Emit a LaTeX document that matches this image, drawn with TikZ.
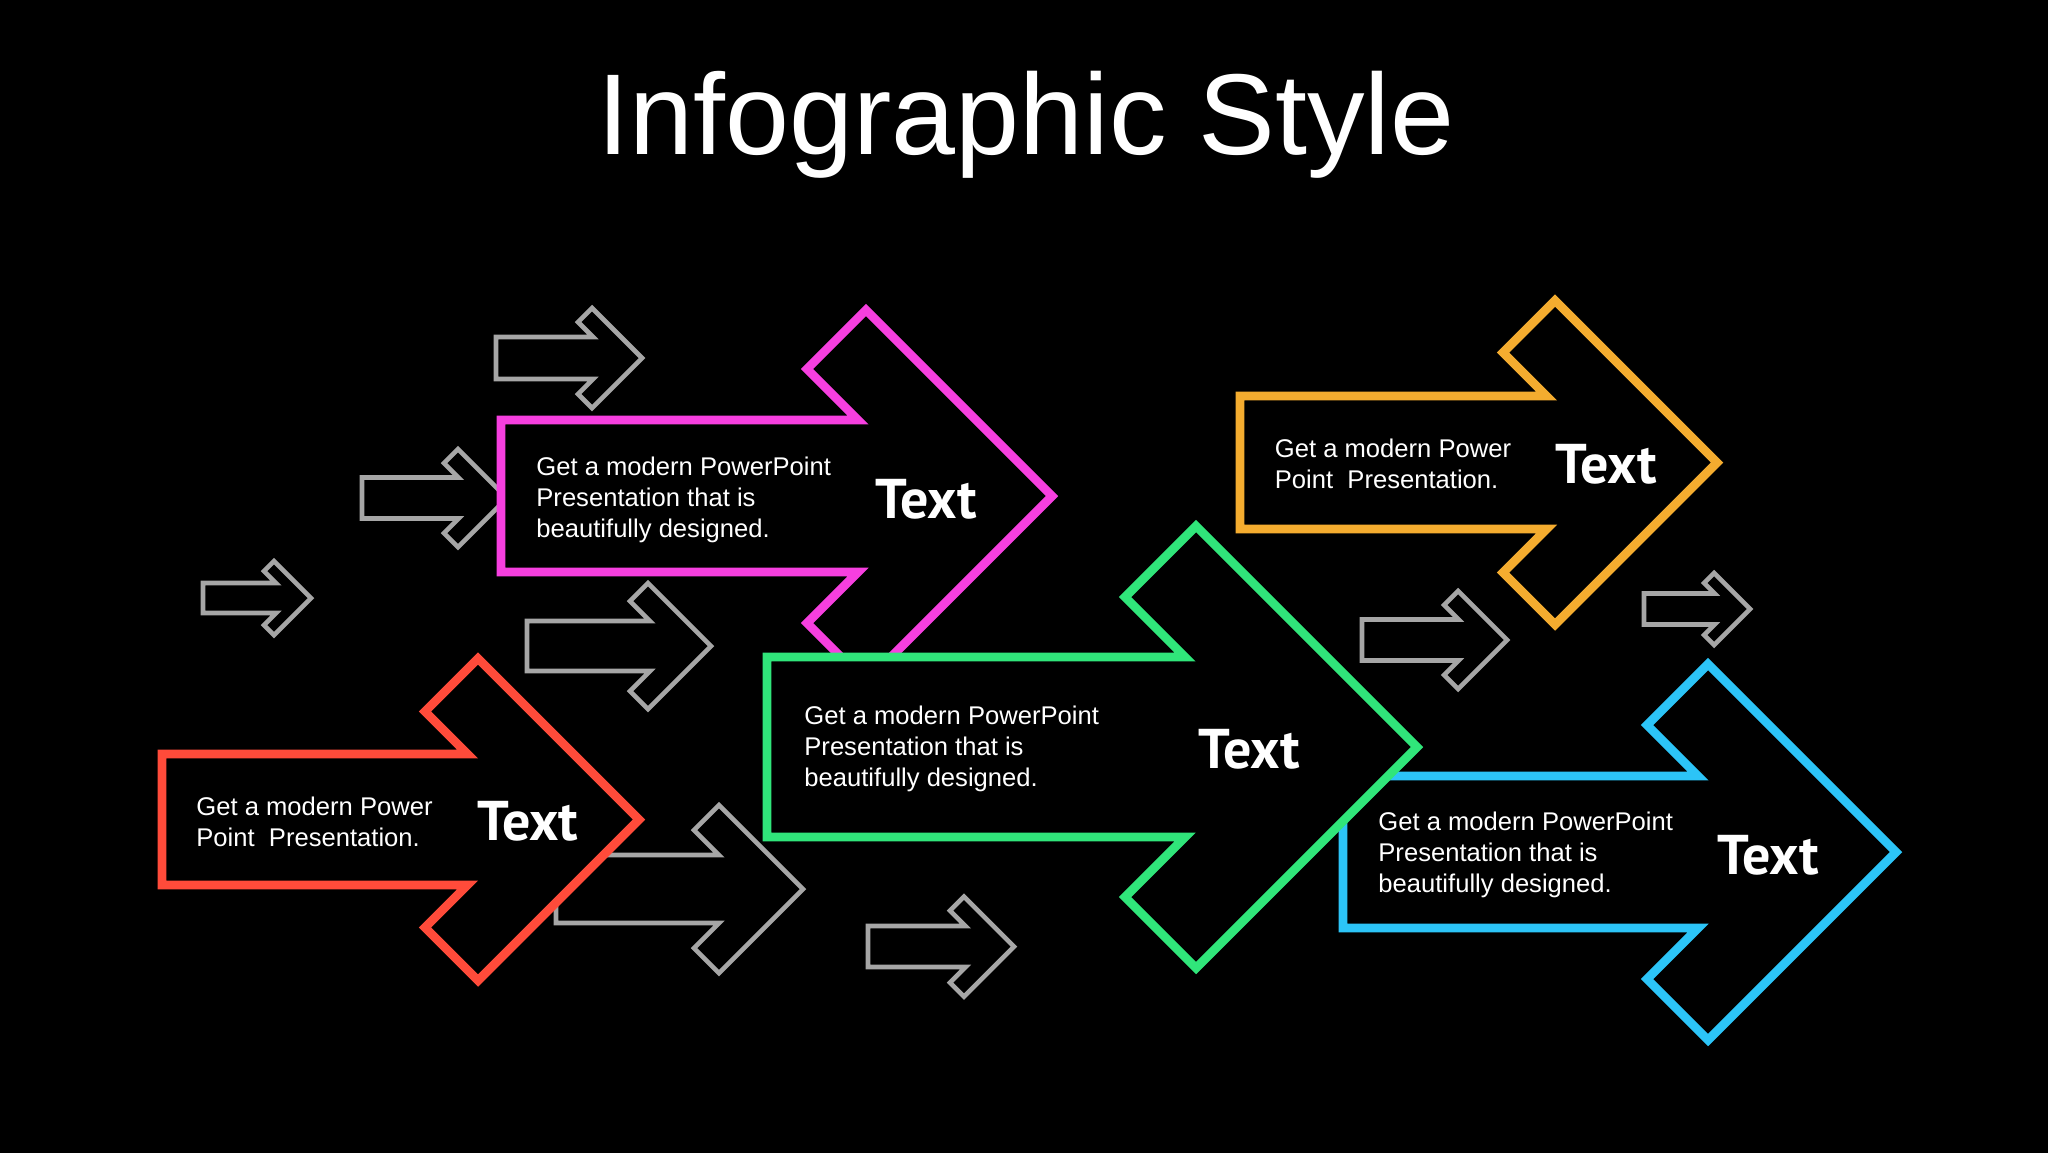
\documentclass[tikz,border=0pt]{standalone}
\usepackage{fontspec}
\usepackage{tikz}
\usetikzlibrary{positioning}
\setmainfont{Liberation Sans}
\newfontfamily\labelfont{PT Sans}
\definecolor{pinkline}{HTML}{F63FDF}
\definecolor{greenline}{HTML}{30E57A}
\definecolor{redline}{HTML}{FF4B3A}
\definecolor{orangeline}{HTML}{F4AC2F}
\definecolor{blueline}{HTML}{2CC4F7}
\definecolor{grayline}{HTML}{A6A6A6}
% style, left, apex x, centre y, head half, bar half, barb depth
\newcommand{\blockarrow}[7]{
    \draw[#1, fill=black] (#2,{#4-#6}) -- ({#3-#7+#5-#7-#6},{#4-#6}) -- ({#3-#7},{#4-#5+#7})
        -- (#3,{#4-#5}) -- ({#3+#5},#4) -- (#3,{#4+#5}) -- ({#3-#7},{#4+#5-#7})
        -- ({#3-#7+#5-#7-#6},{#4+#6}) -- (#2,{#4+#6}) -- cycle;
}
\begin{document}
\begin{tikzpicture}[x=0.5pt, y=-0.5pt,
    every node/.style = {text=white, inner sep=0pt},
    big/.style = {line width=4.4pt},
    small/.style = {draw=grayline, line width=2.3pt},
    body/.style = {align=left, anchor=west, font=\fontsize{12.8}{15.5}\selectfont},
    tag/.style = {font=\labelfont\bfseries\fontsize{28}{30}\selectfont, node distance=22pt}
    ]
    \useasboundingbox (0,0) rectangle (2048,1152);
    \fill[black] (-4,-4) rectangle (2052,1156);

    \node[font=\fontsize{57.5}{60}\selectfont] (title) at (1026,125) {Infographic Style};

    % gray arrows behind
    \blockarrow{small}{496}{592}{358}{50}{21}{14}
    \blockarrow{small}{362}{458}{498}{49}{20.5}{14}
    \blockarrow{small}{203}{274}{598}{37}{15}{10}
    \blockarrow{small}{527}{648}{646}{63}{25}{18}
    \blockarrow{small}{556}{719}{889}{84}{34}{25}
    \blockarrow{small}{868}{964}{946.5}{50}{20.5}{14}
    \blockarrow{small}{1362}{1458}{640}{49}{20.5}{14}
    \blockarrow{small}{1644}{1714}{609}{36}{15.5}{10}

    % big arrows
    \blockarrow{big, draw=pinkline}{501}{866}{496}{186}{76}{59}
    \blockarrow{big, draw=blueline}{1343}{1708}{852}{188}{76}{61}
    \blockarrow{big, draw=greenline}{767}{1196}{747}{221}{90}{71}
    \blockarrow{big, draw=redline}{162}{478}{819.5}{161}{65.5}{53}
    \blockarrow{big, draw=orangeline}{1240}{1555}{462.5}{162}{66.5}{52}

    \node[body] (pinktext) at (536,499.5) {Get a modern PowerPoint\\Presentation that is\\beautifully designed.};
    \node[tag] (pinktag) [right=of pinktext] {Text};
    \node[body] (bluetext) at (1378,855) {Get a modern PowerPoint\\Presentation that is\\beautifully designed.};
    \node[tag] (bluetag) [right=of bluetext] {Text};
    \node[body] (greentext) at (804,749) {Get a modern PowerPoint\\Presentation that is\\beautifully designed.};
    \node[tag, node distance=49.5pt] (greentag) [right=of greentext] {Text};
    \node[body] (redtext) at (196,821.5) {Get a modern Power\\Point\ \ Presentation.};
    \node[tag] (redtag) [right=of redtext] {Text};
    \node[body] (orangetext) at (1274.5,464) {Get a modern Power\\Point\ \ Presentation.};
    \node[tag] (orangetag) [right=of orangetext] {Text};
\end{tikzpicture}
\end{document}
